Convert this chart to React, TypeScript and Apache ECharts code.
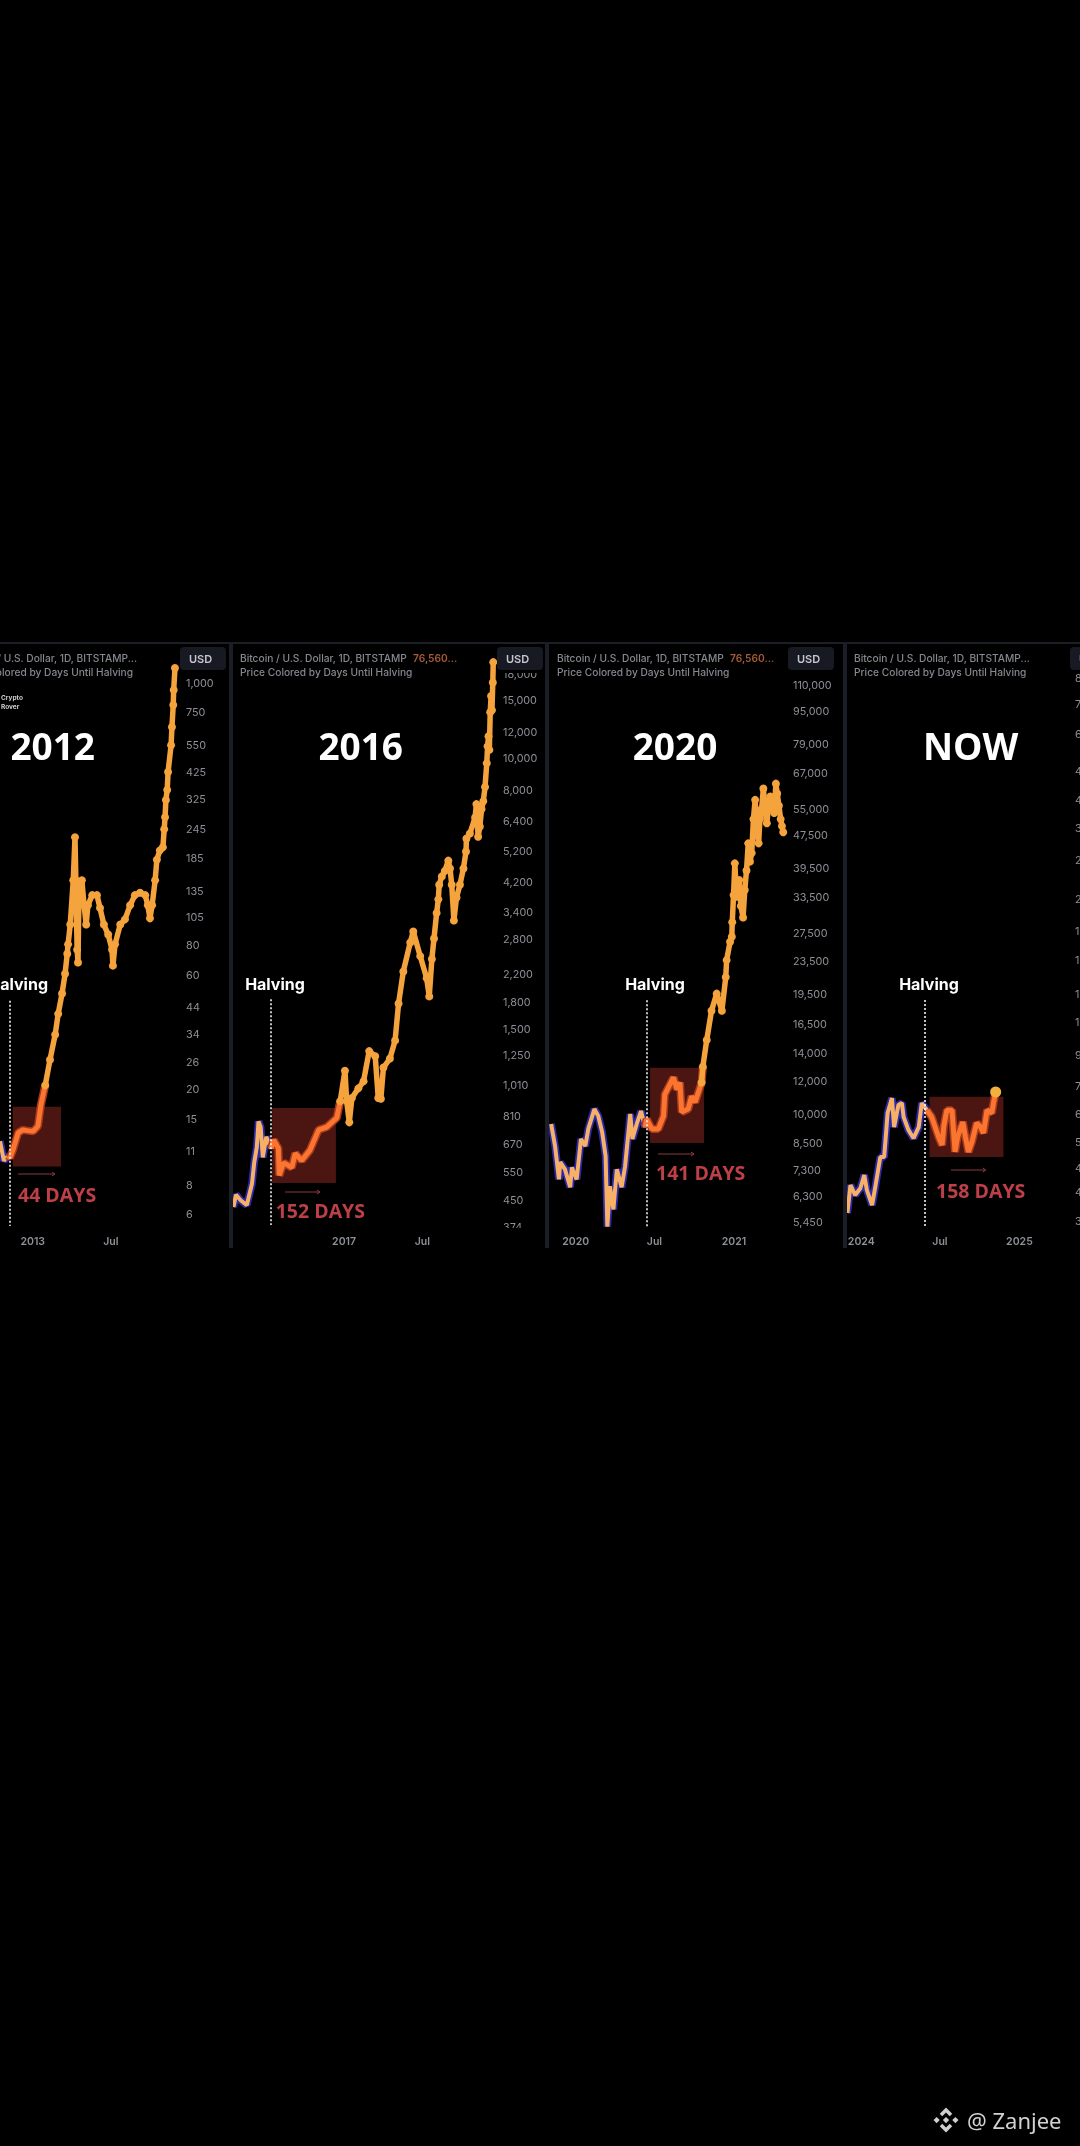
import React, { useEffect, useRef } from "react";
import * as echarts from "echarts";

// ---- data: days since the first labelled date of each panel, and USD price ----
const days2012 = [-76,-67,-57,-53,-46,-34,-23,-13,1,12,19,29,40,52,59,68,75,80,82,87,94,98,100,103,105,107,114,119,124,128,138,149,156,165,175,184,186,191,203,214,226,237,249,261,267,272,277,284,288,295,302,305,307,309,312,314,321,323,326,327,330];
const prices2012 = [12.2,10.1,10.6,10.4,11.2,13.2,13.6,13.5,13.4,14.1,17.3,20.9,26.7,34,41.5,50.5,61,74,81,98,150,227,150,77,68,124,150,118,98,118,130,130,115,98,89,77,66,81,98,103,118,130,133,130,118,104,118,150,183,200,206,245,275,325,358,425,550,655,810,935,1155];
const days2016 = [-256,-250,-240,-225,-213,-208,-202,-198,-193,-188,-180,-169,-163,-152,-150,-140,-121,-113,-98,-79,-59,-40,-17,-9,2,6,12,18,33,45,58,72,79,85,91,106,118,126,137,153,160,176,191,197,203,208,214,218,220,226,233,241,245,249,254,260,268,276,282,283,291,303,306,310,314,318,322,326,330,332,334,336,338,340,342,344,345];
const prices2016 = [431,470,453,437,508,588,655,785,755,610,705,650,690,650,538,588,568,628,597,642,740,755,805,905,1120,905,780,925,990,1040,1285,1240,925,920,1145,1220,1385,1795,2245,2750,2970,2500,2140,1885,2450,2830,3380,3720,4120,4370,4540,4880,4620,4120,3210,3770,4120,4620,5200,5700,5900,6600,7250,5770,6200,7000,7400,8170,9650,10880,11670,10600,13800,15460,14000,17000,19600];
const days2020 = [-57,-48,-39,-36,-25,-13,-9,2,12,22,29,43,52,61,69,73,79,87,95,106,114,126,131,141,151,160,164,176,191,203,206,226,234,241,245,260,268,276,291,294,303,314,326,338,347,349,357,361,362,365,368,372,378,382,387,391,395,399,403,407,411,415,419,423,426,430,434,438,442,446,450,455,459,463,466,470,474,477,480];
const prices2020 = [9460,8360,6940,7640,7340,6640,7420,6940,8700,8360,9200,10280,9890,9040,7900,5330,6680,5870,7340,6640,7460,10000,8700,9460,10170,9300,9720,9200,9200,9890,11160,12270,11470,11930,10110,10280,11040,10680,11930,13030,15130,17820,19600,17820,21500,23640,26200,26950,29200,34000,40600,33700,37000,32000,30000,35000,39000,45400,41000,43000,52000,57900,49000,45400,52000,55000,61700,55000,50800,56000,59000,55000,53800,63400,60000,56000,52000,50000,48300];
const daysNow = [-32,-25,-14,-2,7,13,25,32,44,53,61,71,76,86,94,98,109,121,133,140,152,163,179,187,191,198,202,210,217,223,235,241,248,256,267,275,283,291,302,306,311];
const pricesNow = [37800,44500,42000,43700,47200,43200,39600,43700,52400,52400,67700,73900,62400,71000,71800,66200,61400,58500,62400,71800,68900,66200,58900,56200,62700,68900,68900,68900,54000,59000,64300,59000,54000,57200,63900,62700,60300,68900,67700,71800,76560];

// ---- price-scale tick labels ----
const ticks2012 = [1000,750,550,425,325,245,185,135,105,80,60,44,34,26,20,15,11,8,6];
const ticks2016 = [18000,15000,12000,10000,8000,6400,5200,4200,3400,2800,2200,1800,1500,1250,1010,810,670,550,450,374];
const ticks2020 = [110000,95000,79000,67000,55000,47500,39500,33500,27500,23500,19500,16500,14000,12000,10000,8500,7300,6300,5450];
const ticksNow = [855000,735000,615000,495000,420000,355000,295000,235000,195000,165000,135000,115000,95000,79000,67000,57000,49000,42500,36000];

// ---- time-scale ticks ----
const xDays2012 = [0, 181];
const xLabels2012 = ["2013", "Jul"];
const xDays2016 = [0, 181];
const xLabels2016 = ["2017", "Jul"];
const xDays2020 = [0, 182, 366];
const xLabels2020 = ["2020", "Jul", "2021"];
const xDaysNow = [0, 182, 366];
const xLabelsNow = ["2024", "Jul", "2025"];

const titles = ["2012", "2016", "2020", "NOW"];
const dayLabels = ["44 DAYS", "152 DAYS", "141 DAYS", "158 DAYS"];
const halvingDays = [-52.7, -169.5, 164.8, 148];
const halvingTop = [47.1, 1848, 18900, 131000];
const halvingBottom = [5.4, 380, 5330, 35000];
const boxDayFrom = [-46.4, -166.5, 171.8, 158];
const boxDayTo = [65.7, -19, 296.6, 329];
const boxPriceHigh = [17, 862, 12950, 74500];
const boxPriceLow = [9.55, 510, 8500, 52400];
const hotUntil = [25, -9, 291, 329];

const allDays = [days2012, days2016, days2020, daysNow];
const allPrices = [prices2012, prices2016, prices2020, pricesNow];
const allTicks = [ticks2012, ticks2016, ticks2020, ticksNow];
const allXDays = [xDays2012, xDays2016, xDays2020, xDaysNow];
const allXLabels = [xLabels2012, xLabels2016, xLabels2020, xLabelsNow];

const layout = [
  { left: 0, right: 181, xMin: -76, xMax: 344, yMin: 5.19, yMax: 1442, title: 52.7, halvX: 10, halvLabel: 48, halvAlign: "right", arrow: [18, 55, 1174], dl: [18, 1194], usd: 180 },
  { left: 233, right: 498, xMin: -257, xMax: 356, yMin: 367, yMax: 22100, title: 360.7, halvX: 270.7, halvLabel: 275, halvAlign: "center", arrow: [285, 320, 1192], dl: [275.7, 1210], usd: 497 },
  { left: 549, right: 788, xMin: -62, xMax: 491, yMin: 5230, yMax: 137600, title: 675, halvX: 647, halvLabel: 655, halvAlign: "center", arrow: [658, 694, 1154], dl: [656, 1172], usd: 788 },
  { left: 847, right: 1070, xMin: -33, xMax: 483, yMin: 34250, yMax: 1038000, title: 970.7, halvX: 925, halvLabel: 929, halvAlign: "center", arrow: [951, 985.7, 1170], dl: [936, 1190], usd: 1070 },
];

const HEAD = "#85888f";
const AXIS = "#8d9097";
const SANS = "Inter, 'Open Sans', sans-serif";
const BIG = "'Open Sans', sans-serif";
const BOX = "#4b1611";
const CORE = "#f5a33c";
const HOT = "#fb7430";
const PRE = "#f6b068";
const BLUE = "#2c2aa6";
const RED = "#bd4048";

const LOGO =
  "M12 2 L17 7 L15 9 L12 6 L9 9 L7 7 Z M12 22 L7 17 L9 15 L12 18 L15 15 L17 17 Z M2 12 L4.5 9.5 L7 12 L4.5 14.5 Z M22 12 L19.5 14.5 L17 12 L19.5 9.5 Z M12 9.5 L14.5 12 L12 14.5 L9.5 12 Z";

function buildOption() {
  const grid: any[] = [];
  const xAxis: any[] = [];
  const yAxis: any[] = [];
  const series: any[] = [];
  const graphic: any[] = [];

  const text = (x: number, y: number, t: string, fill: string, size: number, weight: any, align = "left", family = SANS) => ({
    type: "text",
    z: 60,
    style: { x, y, text: t, fill, fontSize: size, fontWeight: weight, fontFamily: family, align, verticalAlign: "middle" },
  });
  const rect = (x: number, y: number, width: number, height: number, fill: string, z = 5, r = 0) => ({
    type: "rect",
    z,
    shape: { x, y, width, height, r },
    style: { fill },
  });

  // frame of the panels
  graphic.push(rect(0, 642, 1080, 2, "#1d1f26"));
  [229, 545, 843].forEach((x) => graphic.push(rect(x, 642, 4, 606, "#1b1e27")));

  layout.forEach((p, i) => {
    grid.push({ left: p.left, top: 645, width: p.right - p.left, height: 585, containLabel: false, outerBoundsMode: "none" });
    xAxis.push({
      type: "value",
      gridIndex: i,
      min: p.xMin,
      max: p.xMax,
      axisLine: { show: false },
      axisTick: { show: false },
      splitLine: { show: false },
      axisLabel: {
        customValues: allXDays[i],
        formatter: (v: number) => allXLabels[i][allXDays[i].indexOf(v)] ?? "",
        color: AXIS,
        fontSize: 10.5,
        fontWeight: 600,
        fontFamily: SANS,
        margin: 6,
      },
    });
    // the real price scale, which the series use
    yAxis.push({ type: "log", logBase: 10, gridIndex: i, min: p.yMin, max: p.yMax, show: false });
    // its labels, at the irregular prices of the reference
    yAxis.push({
      type: "value",
      gridIndex: i,
      position: "right",
      min: Math.log10(p.yMin),
      max: Math.log10(p.yMax),
      axisLine: { show: false },
      axisTick: { show: false },
      splitLine: { show: false },
      axisLabel: {
        customValues: allTicks[i].map((t) => Math.log10(t)),
        formatter: (v: number) => Math.round(Math.pow(10, v)).toLocaleString("en-US"),
        color: AXIS,
        fontSize: 10.8,
        fontFamily: SANS,
        align: "left",
        margin: 5,
      },
    });

    const pts = allDays[i].map((d, k) => [d, allPrices[i][k]]);
    const halv = halvingDays[i];
    const hotEnd = hotUntil[i];
    const pre = pts.filter((q) => q[0] <= halv + 6);
    const hot = pts.filter((q) => q[0] >= halv - 6 && q[0] <= hotEnd + 6);
    const post = pts.filter((q) => q[0] >= hotEnd - 3);
    const yi = i * 2;

    const line = (name: string, data: number[][], color: string, width: number, sym: number, extra: any = {}) => ({
      type: "line",
      name,
      xAxisIndex: i,
      yAxisIndex: yi,
      data,
      symbol: sym ? "circle" : "none",
      symbolSize: sym,
      showSymbol: !!sym,
      lineStyle: { color, width },
      itemStyle: { color },
      emphasis: { disabled: true },
      silent: true,
      z: 3,
      ...extra,
    });

    series.push(
      line(titles[i] + " before halving, edge", pre, BLUE, 7.5, 0, {
        markArea: {
          silent: true,
          z: 1,
          itemStyle: { color: BOX },
          data: [[{ coord: [boxDayFrom[i], boxPriceHigh[i]] }, { coord: [boxDayTo[i], boxPriceLow[i]] }]],
        },
        markLine: {
          silent: true,
          symbol: "none",
          z: 6,
          label: { show: false },
          lineStyle: { color: "#ffffff", type: [2, 2], width: 1.6, opacity: 0.95 },
          data: [[{ coord: [halv, halvingTop[i]] }, { coord: [halv, halvingBottom[i]] }]],
        },
      }),
    );
    series.push(line(titles[i] + " before halving", pre, PRE, 4, 0));
    series.push(line(titles[i] + " after halving, glow", hot, "#a83a1c", 8, 0));
    series.push(line(titles[i] + " after halving", hot, HOT, 5, 0));
    if (post.length > 1) series.push(line(titles[i] + " rally", post, CORE, 5.5, 8));
    if (i === 3) {
      const last = pts[pts.length - 1];
      series.push(line("latest price", [last], "#f3b13c", 0, 11, { z: 4 }));
    }

    // texts over the plot
    graphic.push(text(p.title, 745, titles[i], "#ffffff", 37, 700, "center", BIG));
    graphic.push(text(p.halvLabel, 983.5, "Halving", "#ffffff", 16, 700, p.halvAlign));
    graphic.push(text(p.dl[0], p.dl[1], dayLabels[i], RED, 19.5, 700, "left", BIG));
    const [a0, a1, ay] = p.arrow;
    graphic.push({ type: "line", z: 60, shape: { x1: a0, y1: ay, x2: a1, y2: ay }, style: { stroke: "#8a3a40", lineWidth: 1.2 } });
    graphic.push({ type: "polyline", z: 60, shape: { points: [[a1 - 3, ay - 2], [a1, ay], [a1 - 3, ay + 2]] }, style: { stroke: "#8a3a40", lineWidth: 1, fill: "none" } });

    // currency button
    graphic.push(rect(p.usd, 647, 46, 23, "#171923", 55, 4));
    graphic.push(text(p.usd + 9, 658.5, "USD", "#c4c7cf", 11, 600));
  });

  // the tick labels that the button and the time scale cut in half
  graphic.push(rect(498, 645, 46, 28, "#000000", 50));
  graphic.push(rect(498, 1228, 46, 10, "#000000", 50));

  // legend lines
  const heads: any[] = [
    [137, "Bitcoin / U.S. Dollar, 1D, BITSTAMP...", "right"],
    [240, "Bitcoin / U.S. Dollar, 1D, BITSTAMP", "left"],
    [557, "Bitcoin / U.S. Dollar, 1D, BITSTAMP", "left"],
    [854, "Bitcoin / U.S. Dollar, 1D, BITSTAMP...", "left"],
  ];
  heads.forEach(([x, t, al]) => graphic.push(text(x, 657.5, t, HEAD, 10.2, 500, al)));
  [
    [133, "right"],
    [240, "left"],
    [557, "left"],
    [854, "left"],
  ].forEach(([x, al]: any) => graphic.push(text(x, 672, "Price Colored by Days Until Halving", HEAD, 10.2, 500, al)));
  graphic.push(text(413, 657.5, "76,560...", "#a55b36", 10.2, 600));
  graphic.push(text(730, 657.5, "76,560...", "#a55b36", 10.2, 600));
  graphic.push(text(1, 698, "Crypto", "#cfcfcf", 6.5, 700));
  graphic.push(text(1, 707, "Rover", "#cfcfcf", 6.5, 700));

  // watermark
  graphic.push({ type: "binanceLogo", z: 60, x: 931, y: 2105, scaleX: 1.25, scaleY: 1.25, style: { fill: "#cfcfcf" } });
  graphic.push(text(967, 2120, "@ Zanjee", "#d2d2d2", 22, 400, "left", "'Noto Sans', sans-serif"));

  return { animation: false, backgroundColor: "#000000", grid, xAxis, yAxis, series, graphic: { elements: graphic } };
}

export default function App() {
  const ref = useRef<HTMLDivElement>(null);
  useEffect(() => {
    document.documentElement.style.background = "#000";
    document.body.style.margin = "0";
    document.body.style.background = "#000";
    echarts.graphic.registerShape("binanceLogo", echarts.graphic.extendPath(LOGO, {}) as any);
    const chart = echarts.init(ref.current!, undefined, { renderer: "svg" });
    chart.setOption(buildOption() as any);
    return () => chart.dispose();
  }, []);
  return <div ref={ref} style={{ width: 1080, height: 2146, filter: "blur(0.45px)" }} />;
}
